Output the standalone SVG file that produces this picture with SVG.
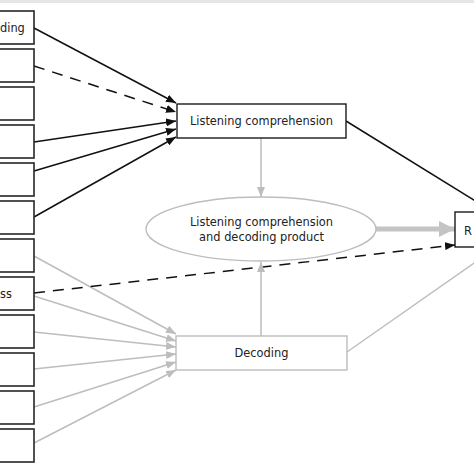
<svg xmlns="http://www.w3.org/2000/svg" width="474" height="474" viewBox="0 0 474 474">
<defs>
<style>
.lb{fill:#fff;stroke:#262626;stroke-width:1.6}
.blk{fill:#fff;stroke:#1a1a1a;stroke-width:1.4}
.gry{fill:#fff;stroke:#bdbdbd;stroke-width:1.4}
.t{font-family:"DejaVu Sans",Verdana,sans-serif;font-size:11.4px;fill:#222}
.lk{stroke:#111;stroke-width:1.5;fill:none}
.lg{stroke:#bdbdbd;stroke-width:1.5;fill:none}
.ds{stroke-dasharray:11 8}
</style>
<marker id="ak" viewBox="0 0 10 8" refX="10" refY="4" markerWidth="10" markerHeight="8" markerUnits="userSpaceOnUse" orient="auto"><path d="M0,0L10,4L0,8z" fill="#111"/></marker>
<marker id="ag" viewBox="0 0 10 8" refX="10" refY="4" markerWidth="10" markerHeight="8" markerUnits="userSpaceOnUse" orient="auto"><path d="M0,0L10,4L0,8z" fill="#bdbdbd"/></marker>
<marker id="abig" viewBox="0 0 16 16" refX="16" refY="8" markerWidth="16" markerHeight="16" markerUnits="userSpaceOnUse" orient="auto"><path d="M0,0L16,8L0,16z" fill="#c4c4c4"/></marker>
</defs>
<rect x="0" y="0" width="474" height="474" fill="#fff"/>
<rect x="0" y="0" width="474" height="3" fill="#e6e6e6"/>
<g id="connectors">
<line class="lk" x1="34" y1="28" x2="176" y2="103" marker-end="url(#ak)"/>
<line class="lk ds" x1="34" y1="66" x2="176" y2="112" marker-end="url(#ak)"/>
<line class="lk" x1="34" y1="142" x2="176" y2="121" marker-end="url(#ak)"/>
<line class="lk" x1="34" y1="171" x2="176" y2="129" marker-end="url(#ak)"/>
<line class="lk" x1="34" y1="217" x2="176" y2="137" marker-end="url(#ak)"/>
<line class="lg" x1="34" y1="256" x2="176" y2="334" marker-end="url(#ag)"/>
<line class="lg" x1="34" y1="296" x2="176" y2="341" marker-end="url(#ag)"/>
<line class="lg" x1="34" y1="332" x2="176" y2="347" marker-end="url(#ag)"/>
<line class="lg" x1="34" y1="369" x2="176" y2="354" marker-end="url(#ag)"/>
<line class="lg" x1="34" y1="407" x2="176" y2="362" marker-end="url(#ag)"/>
<line class="lg" x1="34" y1="443" x2="176" y2="370" marker-end="url(#ag)"/>
<line class="lk ds" x1="34" y1="293" x2="455" y2="245" marker-end="url(#ak)"/>
<line class="lg" x1="261" y1="138" x2="261" y2="197" marker-end="url(#ag)"/>
<line class="lg" x1="261" y1="336" x2="261" y2="262" marker-end="url(#ag)"/>
<line x1="376" y1="229" x2="455" y2="229" stroke="#c4c4c4" stroke-width="5" marker-end="url(#abig)"/>
<line class="lk" x1="346" y1="121" x2="495" y2="213"/>
<line class="lg" x1="347" y1="352" x2="497" y2="247"/>
</g>
<g id="src1"><rect class="lb" x="-5" y="11" width="39" height="33"/><text class="t" x="0" y="32">ding</text></g>
<g id="src2"><rect class="lb" x="-5" y="49" width="39" height="33"/></g>
<g id="src3"><rect class="lb" x="-5" y="87" width="39" height="33"/></g>
<g id="src4"><rect class="lb" x="-5" y="125" width="39" height="33"/></g>
<g id="src5"><rect class="lb" x="-5" y="163" width="39" height="33"/></g>
<g id="src6"><rect class="lb" x="-5" y="201" width="39" height="33"/></g>
<g id="src7"><rect class="lb" x="-5" y="239" width="39" height="33"/></g>
<g id="src8"><rect class="lb" x="-5" y="277" width="39" height="33"/><text class="t" x="0" y="298">ss</text></g>
<g id="src9"><rect class="lb" x="-5" y="315" width="39" height="33"/></g>
<g id="src10"><rect class="lb" x="-5" y="353" width="39" height="33"/></g>
<g id="src11"><rect class="lb" x="-5" y="391" width="39" height="33"/></g>
<g id="src12"><rect class="lb" x="-5" y="429" width="39" height="33"/></g>
<g id="listening"><rect class="blk" x="177" y="104" width="169" height="34"/><text class="t" x="261.5" y="125" text-anchor="middle">Listening comprehension</text></g>
<g id="product"><ellipse class="gry" cx="261" cy="229" rx="115" ry="32"/><text class="t" x="261.5" y="226" text-anchor="middle">Listening comprehension</text><text class="t" x="261.5" y="241" text-anchor="middle">and decoding product</text></g>
<g id="decoding"><rect class="gry" x="176" y="336" width="171" height="34"/><text class="t" x="261.5" y="357" text-anchor="middle">Decoding</text></g>
<g id="reading"><rect class="blk" x="455" y="212" width="40" height="35"/><text class="t" x="464" y="235">R</text></g>
</svg>
